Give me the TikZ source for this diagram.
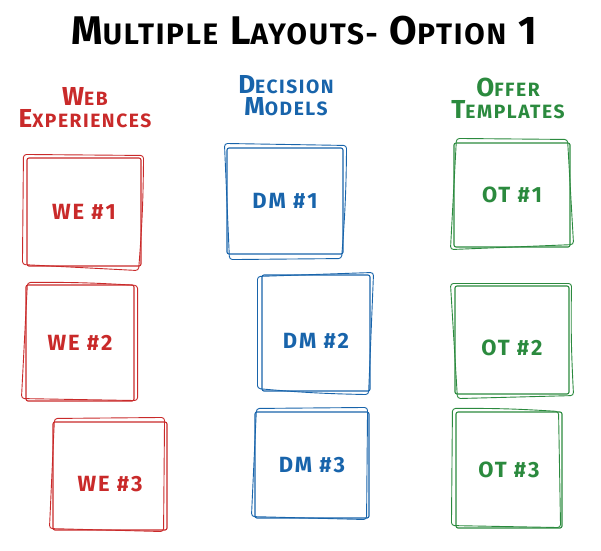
\documentclass[tikz,border=0pt]{standalone}
\usepackage{fontspec}
\setmainfont{Fira Sans}
\usepackage{graphicx}
\usetikzlibrary{positioning}
\definecolor{sketchred}{HTML}{C92A2A}
\definecolor{sketchblue}{HTML}{1864AB}
\definecolor{sketchgreen}{HTML}{2B8A3E}
% first letter large, rest as small capitals
\newcommand{\initcap}[2]{#1\scalebox{0.74}{#2}}

\begin{document}
\begin{tikzpicture}[x=1pt,y=-1pt,
  box/.style={draw=#1,text=#1,line width=1.1pt,rounded corners=2pt,inner sep=0pt,
    font=\fontsize{22}{22}\selectfont\bfseries\addfontfeature{LetterSpace=9}},
  low/.style={text height=31pt},
  trace/.style={draw=#1,line width=0.9pt,rounded corners=3pt},
  heading/.style={text=#1,align=center,
    font=\fontsize{26}{26}\selectfont\bfseries\addfontfeature{LetterSpace=8}}]
\useasboundingbox (0,0) rectangle (601,550);

% title
\node[font=\fontsize{40}{40}\selectfont\bfseries\addfontfeature{LetterSpace=6}] (title) at (304,31)
  {\initcap{M}{ULTIPLE} \initcap{L}{AYOUTS-} \initcap{O}{PTION} 1};

% column headings
\node[heading=sketchred] (webhead) at (85,108) {\initcap{W}{EB}\\[-4pt]\initcap{E}{XPERIENCES}};
\node[heading=sketchblue] (dmhead) at (286,96) {\initcap{D}{ECISION}\\[-4pt]\initcap{M}{ODELS}};
\node[heading=sketchgreen] (othead) at (508,98) {\initcap{O}{FFER}\\[-4pt]\initcap{T}{EMPLATES}};

% web experiences
\node[box=sketchred,minimum width=114,minimum height=108] (we1) at (84,212) {WE \#1};
\node[box=sketchred,minimum width=108,minimum height=116] (we2) at (80,343) {WE \#2};
\node[box=sketchred,low,minimum width=114,minimum height=108] (we3) at (110,476) {WE \#3};
\draw[trace=sketchred] ([shift={(-3,-3)}]we1.north west) -- ([shift={(2,-2)}]we1.north east)
  to[bend left=2] ([shift={(-3,4)}]we1.south east) -- ([shift={(-4,-2)}]we1.south west) -- cycle;
\draw[trace=sketchred] ([shift={(2,-2)}]we2.north west) to[bend left=2] ([shift={(3,1)}]we2.north east)
  -- ([shift={(3,-1)}]we2.south east) -- ([shift={(-4,-3)}]we2.south west) -- cycle;
\draw[trace=sketchred] ([shift={(2,-3)}]we3.north west) -- ([shift={(-3,-4)}]we3.north east)
  -- ([shift={(-4,1)}]we3.south east) -- ([shift={(-3,-2)}]we3.south west) -- cycle;

% decision models
\node[box=sketchblue,minimum width=116,minimum height=106] (dm1) at (285,201) {DM \#1};
\node[box=sketchblue,low,minimum width=108,minimum height=116] (dm2) at (316,333) {DM \#2};
\node[box=sketchblue,minimum width=114,minimum height=106] (dm3) at (312,465) {DM \#3};
\draw[trace=sketchblue] ([shift={(-2,-4)}]dm1.north west) -- ([shift={(3,-2)}]dm1.north east)
  to[bend left=2] ([shift={(-2,4)}]dm1.south east) -- ([shift={(3,5)}]dm1.south west) -- cycle;
\draw[trace=sketchblue] ([shift={(-4,2)}]dm2.north west) -- ([shift={(3,-2)}]dm2.north east)
  -- ([shift={(-2,3)}]dm2.south east) to[bend left=2] ([shift={(-4,-3)}]dm2.south west) -- cycle;
\draw[trace=sketchblue] ([shift={(2,-3)}]dm3.north west) -- ([shift={(-2,-4)}]dm3.north east)
  -- ([shift={(-3,1)}]dm3.south east) -- ([shift={(-3,-2)}]dm3.south west) -- cycle;

% offer templates
\node[box=sketchgreen,minimum width=116,minimum height=104] (ot1) at (512,195) {OT \#1};
\node[box=sketchgreen,low,minimum width=114,minimum height=108] (ot2) at (512,340) {OT \#2};
\node[box=sketchgreen,minimum width=106,minimum height=116] (ot3) at (509,470) {OT \#3};
\draw[trace=sketchgreen] ([shift={(3,-4)}]ot1.north west) -- ([shift={(-3,-3)}]ot1.north east)
  -- ([shift={(3,-3)}]ot1.south east) -- ([shift={(-3,2)}]ot1.south west) -- cycle;
\draw[trace=sketchgreen] ([shift={(-4,-2)}]ot2.north west) -- ([shift={(2,-2)}]ot2.north east)
  to[bend right=2] ([shift={(4,1)}]ot2.south east) -- ([shift={(3,4)}]ot2.south west) -- cycle;
\draw[trace=sketchgreen] ([shift={(-3,-3)}]ot3.north west) to[bend left=2] ([shift={(-4,0)}]ot3.north east)
  -- ([shift={(-2,-1)}]ot3.south east) -- ([shift={(-4,-3)}]ot3.south west) -- cycle;
\end{tikzpicture}
\end{document}
